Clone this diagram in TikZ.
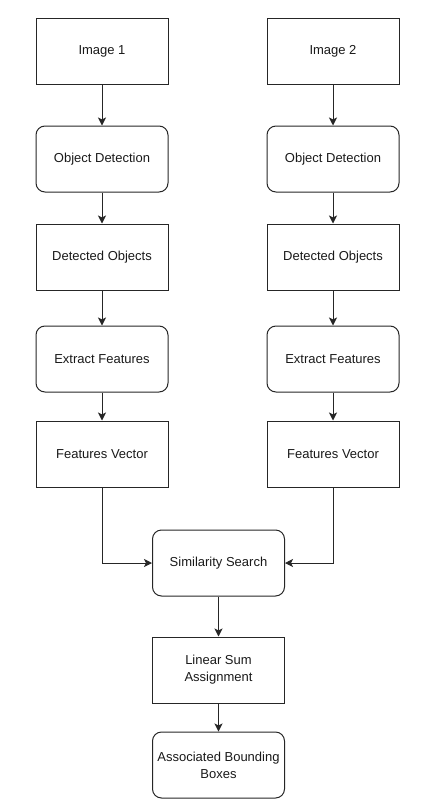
\documentclass[tikz,border=0pt]{standalone}
\usepackage{fontspec}
\setmainfont{Liberation Sans}
\usetikzlibrary{arrows.meta}
\begin{document}
\begin{tikzpicture}[x=1pt,y=-1pt,
  box/.style={draw=black!85, line width=1pt, minimum width=132pt, minimum height=66pt,
    inner sep=0pt, align=center, font=\fontsize{13}{17}\selectfont, text=black!90},
  rbox/.style={box, rounded corners=9pt},
  conn/.style={draw=black!85, line width=1pt, -{Stealth[length=8pt,width=8pt,inset=2pt]}}]
\useasboundingbox (0,0) rectangle (430,811);
\node[box]  (i1) at (102,51)  {Image 1};
\node[rbox] (o1) at (102,159) {Object Detection};
\node[box]  (d1) at (102,257) {Detected Objects};
\node[rbox] (e1) at (102,359) {Extract Features};
\node[box]  (f1) at (102,454) {Features Vector};
\node[box]  (i2) at (333,51)  {Image 2};
\node[rbox] (o2) at (333,159) {Object Detection};
\node[box]  (d2) at (333,257) {Detected Objects};
\node[rbox] (e2) at (333,359) {Extract Features};
\node[box]  (f2) at (333,454) {Features Vector};
\node[rbox] (s)  at (218.5,563) {Similarity Search};
\node[box]  (l)  at (218.5,670) {Linear Sum\\Assignment};
\node[rbox] (a)  at (218.5,765) {Associated Bounding\\Boxes};
\draw[conn] (i1) -- (o1);
\draw[conn] (o1) -- (d1);
\draw[conn] (d1) -- (e1);
\draw[conn] (e1) -- (f1);
\draw[conn] (i2) -- (o2);
\draw[conn] (o2) -- (d2);
\draw[conn] (d2) -- (e2);
\draw[conn] (e2) -- (f2);
\draw[conn] (f1.south) |- (s.west);
\draw[conn] (f2.south) |- (s.east);
\draw[conn] (s) -- (l);
\draw[conn] (l) -- (a);
\end{tikzpicture}
\end{document}
